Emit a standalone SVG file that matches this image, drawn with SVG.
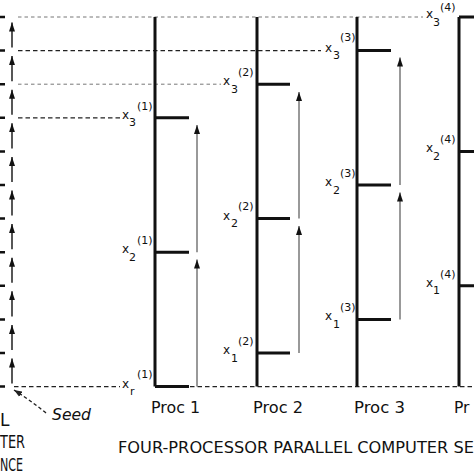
<svg xmlns="http://www.w3.org/2000/svg" width="474" height="474" viewBox="0 0 474 474">
<defs>
<marker id="ah" markerUnits="userSpaceOnUse" markerWidth="10" markerHeight="7" refX="9" refY="3.5" orient="auto" viewBox="0 0 10 7">
<path d="M0 0.5 L9 3.5 L0 6.5 z" fill="#111"/>
</marker>
<marker id="ahs" markerUnits="userSpaceOnUse" markerWidth="10" markerHeight="7" refX="8" refY="3.5" orient="auto" viewBox="0 0 10 7">
<path d="M0 0.5 L8 3.5 L0 6.5 z" fill="#222"/>
</marker>
<style>
.proc{stroke:#111;stroke-width:3;fill:none}
.bar{stroke:#111;stroke-width:3;fill:none}
.tick{stroke:#111;stroke-width:2.5}
.seq{stroke:#444;stroke-width:1.8;fill:none;marker-end:url(#ah)}
.parr{stroke:#555;stroke-width:1.2;fill:none;marker-end:url(#ah)}
.dd{stroke:#222;stroke-width:1.3;stroke-dasharray:4.5 3;fill:none}
.dl{stroke:#777;stroke-width:1;stroke-dasharray:3.5 3;fill:none}
text{font-family:"DejaVu Sans","Liberation Sans",sans-serif;fill:#111}
.x{font-size:12px}
.s{font-size:11px}
.lab{font-size:15.5px}
.side{font-size:17px}
</style>
</defs>

<g id="connectors">
<path class="dl" d="M18 17 H423"/>
<path class="dd" d="M18 50.6 H321"/>
<path class="dl" d="M18 84.2 H221"/>
<path class="dd" d="M18 117.8 H120"/>
<path class="dd" d="M14 386.6 H120 M190 386.6 H474"/>
<path class="seq" d="M12 47.6 V22.5"/>
<path class="seq" d="M12 81.2 V56.1"/>
<path class="seq" d="M12 114.8 V89.7"/>
<path class="seq" d="M12 148.4 V123.3"/>
<path class="seq" d="M12 182 V156.9"/>
<path class="seq" d="M12 215.6 V190.5"/>
<path class="seq" d="M12 249.2 V224.1"/>
<path class="seq" d="M12 282.8 V257.7"/>
<path class="seq" d="M12 316.4 V291.3"/>
<path class="seq" d="M12 350 V324.9"/>
<path class="seq" d="M12 383.6 V358.5"/>
<path class="parr" d="M197 386.6 V259.5"/>
<path class="parr" d="M197 252.2 V125"/>
<path class="parr" d="M299 353 V226"/>
<path class="parr" d="M299 218.6 V92"/>
<path class="parr" d="M400 319.4 V192.5"/>
<path class="parr" d="M400 185 V57.5"/>
<path d="M46 413 Q30 400 14 390" stroke="#222" stroke-width="1.4" stroke-dasharray="3.5 2.5" fill="none" marker-end="url(#ahs)"/>
</g>

<g id="serial-axis">
<path class="tick" d="M0 17 H5 M0 50.6 H5 M0 84.2 H5 M0 117.8 H5 M0 151.4 H5 M0 185 H5 M0 218.6 H5 M0 252.2 H5 M0 285.8 H5 M0 319.4 H5 M0 353 H5 M0 386.6 H5"/>
<text class="side" x="0" y="426">L</text>
<text class="side" x="0" y="448" textLength="25" lengthAdjust="spacingAndGlyphs">TER</text>
<text class="side" x="0" y="471" textLength="23" lengthAdjust="spacingAndGlyphs">NCE</text>
<text x="52" y="420" font-size="15" font-style="italic" textLength="39" lengthAdjust="spacingAndGlyphs">Seed</text>
</g>

<g id="proc1">
<path class="proc" d="M155 17 V386.6"/>
<path class="bar" d="M155 117.8 H189 M155 252.2 H189 M155 386.6 H189"/>
<text class="x" x="122" y="118.8">x</text><text class="s" x="129" y="126.3">3</text><text class="s" x="137" y="109.5">(1)</text>
<text class="x" x="122" y="253.2">x</text><text class="s" x="129" y="260.7">2</text><text class="s" x="137" y="243.9">(1)</text>
<text class="x" x="122" y="387.6">x</text><text class="s" x="130" y="394.5">r</text><text class="s" x="137" y="378.3">(1)</text>
<text class="lab" x="151" y="413" textLength="49" lengthAdjust="spacingAndGlyphs">Proc 1</text>
</g>

<g id="proc2">
<path class="proc" d="M257 17 V386.6"/>
<path class="bar" d="M257 84.2 H290 M257 218.6 H290 M257 353 H290"/>
<text class="x" x="223" y="85.2">x</text><text class="s" x="231" y="92.7">3</text><text class="s" x="238" y="75.9">(2)</text>
<text class="x" x="223" y="219.6">x</text><text class="s" x="231" y="227.1">2</text><text class="s" x="238" y="210.3">(2)</text>
<text class="x" x="223" y="354">x</text><text class="s" x="231" y="361.5">1</text><text class="s" x="238" y="344.7">(2)</text>
<text class="lab" x="253" y="413" textLength="50" lengthAdjust="spacingAndGlyphs">Proc 2</text>
</g>

<g id="proc3">
<path class="proc" d="M357 17 V386.6" stroke-width="4"/>
<path class="bar" d="M357 50.6 H391 M357 185 H391 M357 319.4 H391"/>
<text class="x" x="325" y="51.6">x</text><text class="s" x="333" y="59.1">3</text><text class="s" x="340" y="41.3">(3)</text>
<text class="x" x="325" y="186">x</text><text class="s" x="333" y="193.5">2</text><text class="s" x="340" y="176.7">(3)</text>
<text class="x" x="325" y="320.4">x</text><text class="s" x="333" y="327.9">1</text><text class="s" x="340" y="311.1">(3)</text>
<text class="lab" x="354" y="413" textLength="51" lengthAdjust="spacingAndGlyphs">Proc 3</text>
</g>

<g id="proc4">
<path class="proc" d="M459 17 V386.6"/>
<path class="bar" d="M459 17 H480 M459 151.4 H480 M459 285.8 H480"/>
<text class="x" x="426" y="18">x</text><text class="s" x="433" y="25.5">3</text><text class="s" x="440" y="10.5">(4)</text>
<text class="x" x="426" y="152.4">x</text><text class="s" x="433" y="159.9">2</text><text class="s" x="440" y="143.1">(4)</text>
<text class="x" x="426" y="286.8">x</text><text class="s" x="433" y="294.3">1</text><text class="s" x="440" y="277.5">(4)</text>
<text class="lab" x="454" y="413">Pr</text>
</g>

<g id="caption">
<text class="lab" x="118" y="453" textLength="356" lengthAdjust="spacingAndGlyphs">FOUR-PROCESSOR PARALLEL COMPUTER SE</text>
</g>
</svg>
